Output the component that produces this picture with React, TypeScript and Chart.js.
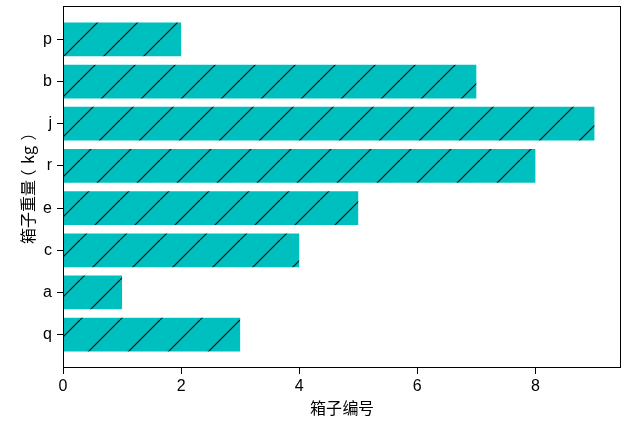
import { useEffect, useRef } from "react";
import { Chart, registerables } from "chart.js";

Chart.register(...registerables);

const categories = ["q", "a", "c", "e", "r", "j", "b", "p"];
const values = [3, 1, 4, 5, 8, 9, 7, 2];
const xTicks = [0, 2, 4, 6, 8];
const xLabel = "箱子编号";
const yLabel = "箱子重量（kg）";

const TICK_FONT = '"Liberation Sans", Arial, "Noto Sans CJK SC", sans-serif';
const TITLE_FONT = '"Noto Sans CJK SC", "Liberation Sans", sans-serif';
const BAR_COLOR = "#00bfbf";
const TITLE_SIZE = 16;

function drawCellText(ctx: CanvasRenderingContext2D, text: string, cx: number, cy: number) {
  // wide (CJK / full-width) characters get a full em cell with their ink centred
  const chars = Array.from(text);
  const items = chars.map((ch) => {
    const m = ctx.measureText(ch);
    const wide = ch.charCodeAt(0) >= 0x2e80;
    const w = wide ? TITLE_SIZE : m.width;
    const inkCenter = wide ? (m.actualBoundingBoxRight - m.actualBoundingBoxLeft) / 2 : m.width / 2;
    return { ch, w, inkCenter };
  });
  const total = items.reduce((s, it) => s + it.w, 0);
  let x = cx - total / 2;
  ctx.textAlign = "left";
  for (const it of items) {
    ctx.fillText(it.ch, x + it.w / 2 - it.inkCenter, cy);
    x += it.w;
  }
}

export default function App() {
  const ref = useRef<HTMLCanvasElement>(null);

  useEffect(() => {
    const canvas = ref.current!;
    const tile = document.createElement("canvas");
    tile.width = 40;
    tile.height = 40;
    const t = tile.getContext("2d")!;
    t.fillStyle = BAR_COLOR;
    t.fillRect(0, 0, 40, 40);
    t.strokeStyle = "#111";
    t.lineWidth = 1.2;
    for (const k of [-40, 0, 40]) {
      t.beginPath();
      t.moveTo(k, 40);
      t.lineTo(k + 40, 0);
      t.stroke();
    }
    const pattern = canvas.getContext("2d")!.createPattern(tile, "repeat")!;

    const framePlugin = {
      id: "frame",
      afterDraw(chart: any) {
        const { ctx, chartArea: a } = chart;
        ctx.save();
        ctx.strokeStyle = "#000";
        ctx.lineWidth = 1;
        const l = Math.round(a.left) + 0.5;
        const r = Math.round(a.right) - 0.5;
        const tp = Math.round(a.top) + 0.5;
        const b = Math.round(a.bottom) - 0.5;
        ctx.strokeRect(l, tp, r - l, b - tp);
        ctx.fillStyle = "#000";
        ctx.font = `${TITLE_SIZE}px ${TITLE_FONT}`;
        ctx.textBaseline = "middle";
        drawCellText(ctx, xLabel, (a.left + a.right) / 2, a.bottom + 40);
        ctx.translate(a.left - 35, (a.top + a.bottom) / 2);
        ctx.rotate(-Math.PI / 2);
        drawCellText(ctx, yLabel, 0, 0);
        ctx.restore();
      },
    };

    const gridOpts = {
      drawOnChartArea: false,
      drawTicks: true,
      tickLength: 6,
      color: "#000",
      lineWidth: 1,
      offset: false,
    };

    const zeroPad = (s: any) => {
      s.paddingTop = 0;
      s.paddingBottom = 0;
      s.paddingLeft = 0;
      s.paddingRight = 0;
    };

    const chart = new Chart(canvas, {
      type: "bar",
      data: {
        datasets: [
          {
            data: values.map((v, i) => ({ x: v, y: i })),
            backgroundColor: pattern,
            borderWidth: 0,
            barPercentage: 0.8,
            categoryPercentage: 1.0,
          },
        ],
      },
      options: {
        indexAxis: "y",
        animation: false,
        responsive: false,
        events: [],
        layout: { padding: { left: 0, right: 17, top: 6, bottom: 0 } },
        plugins: { legend: { display: false }, tooltip: { enabled: false } },
        scales: {
          x: {
            type: "linear",
            position: "bottom",
            min: 0,
            max: 9.45,
            offset: false,
            afterBuildTicks: (s: any) => {
              s.ticks = xTicks.map((v) => ({ value: v }));
            },
            afterFit: (s: any) => {
              s.height = 65;
              zeroPad(s);
            },
            grid: gridOpts,
            border: { display: false },
            ticks: {
              color: "#000",
              font: { family: TICK_FONT, size: 16 },
              padding: 3,
              maxRotation: 0,
              autoSkip: false,
            },
          },
          y: {
            type: "linear",
            position: "left",
            min: -0.79,
            max: 7.79,
            offset: false,
            afterBuildTicks: (s: any) => {
              s.ticks = categories.map((_, i) => ({ value: i }));
            },
            afterFit: (s: any) => {
              s.width = 63;
              zeroPad(s);
            },
            grid: gridOpts,
            border: { display: false },
            ticks: {
              color: "#000",
              font: { family: TICK_FONT, size: 16 },
              padding: 5,
              autoSkip: false,
              callback: (v: any) => categories[Math.round(Number(v))] ?? "",
            },
          },
        },
      } as any,
      plugins: [framePlugin],
    });

    return () => chart.destroy();
  }, []);

  return (
    <div style={{ position: "fixed", left: 0, top: 0, width: 638, height: 433, background: "#fff" }}>
      <canvas ref={ref} width={638} height={433} style={{ display: "block" }} />
    </div>
  );
}
